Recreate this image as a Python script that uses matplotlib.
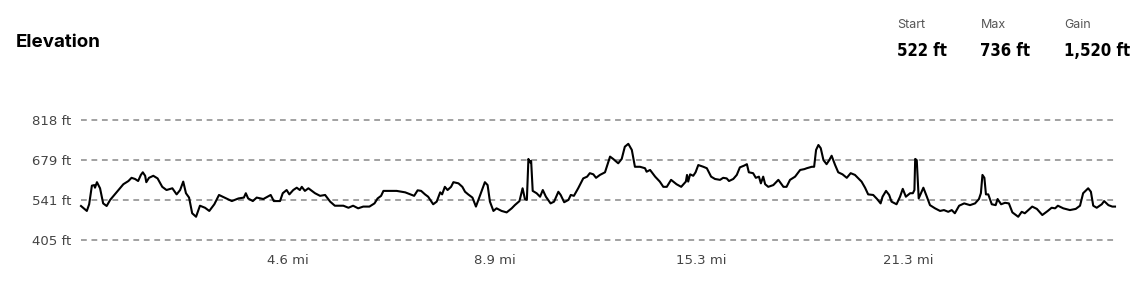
import matplotlib
matplotlib.use("Agg")
import matplotlib.pyplot as plt

# distance along the route (mi) and elevation (ft)
dist_mi = [
    0.00, 0.15, 0.21, 0.28, 0.34, 0.36, 0.41, 0.49, 0.57, 0.66, 0.75, 0.87, 1.00, 1.09, 1.22, 1.30,
    1.39, 1.47, 1.54, 1.59, 1.65, 1.68, 1.75, 1.86, 1.97, 2.09, 2.20, 2.35, 2.46, 2.55, 2.63, 2.70,
    2.78, 2.86, 2.96, 3.06, 3.19, 3.30, 3.43, 3.55, 3.69, 3.88, 4.05, 4.19, 4.24, 4.30, 4.42, 4.52,
    4.69, 4.88, 4.96, 5.12, 5.19, 5.29, 5.36, 5.46, 5.55, 5.63, 5.68, 5.76, 5.85, 6.02, 6.15, 6.28,
    6.41, 6.53, 6.75, 6.88, 7.00, 7.13, 7.26, 7.42, 7.55, 7.63, 7.72, 7.78, 7.95, 8.12, 8.34, 8.57,
    8.66, 8.75, 8.85, 8.93, 9.06, 9.15, 9.24, 9.29, 9.36, 9.43, 9.52, 9.58, 9.71, 9.81, 9.88, 9.96,
    10.07, 10.16, 10.26, 10.39, 10.46, 10.52, 10.61, 10.69, 10.82, 10.95, 11.08, 11.16, 11.28, 11.36,
    11.42, 11.47, 11.51, 11.55, 11.58, 11.62, 11.72, 11.81, 11.88, 11.96, 12.08, 12.17, 12.28, 12.34,
    12.43, 12.54, 12.60, 12.68, 12.79, 12.92, 13.02, 13.09, 13.18, 13.25, 13.35, 13.48, 13.61, 13.69,
    13.82, 13.91, 13.99, 14.08, 14.17, 14.25, 14.38, 14.51, 14.55, 14.64, 14.77, 14.89, 14.98, 15.07,
    15.18, 15.32, 15.44, 15.56, 15.59, 15.62, 15.67, 15.75, 15.81, 15.88, 16.01, 16.10, 16.21, 16.31,
    16.44, 16.52, 16.61, 16.67, 16.78, 16.87, 16.95, 17.06, 17.13, 17.18, 17.29, 17.36, 17.44, 17.49,
    17.55, 17.60, 17.68, 17.81, 17.94, 18.07, 18.15, 18.24, 18.37, 18.50, 18.61, 18.67, 18.80, 18.86,
    18.91, 18.97, 19.03, 19.10, 19.18, 19.25, 19.31, 19.40, 19.48, 19.59, 19.70, 19.80, 19.91, 20.00,
    20.08, 20.17, 20.25, 20.38, 20.48, 20.57, 20.62, 20.71, 20.79, 20.85, 20.98, 21.07, 21.14, 21.22,
    21.33, 21.40, 21.44, 21.46, 21.50, 21.55, 21.67, 21.76, 21.84, 21.97, 22.10, 22.20, 22.31, 22.40,
    22.48, 22.59, 22.72, 22.87, 23.00, 23.10, 23.15, 23.19, 23.24, 23.28, 23.34, 23.43, 23.53, 23.58,
    23.67, 23.77, 23.87, 23.96, 24.11, 24.20, 24.28, 24.37, 24.47, 24.59, 24.73, 24.87, 24.97, 25.06,
    25.13, 25.27, 25.44, 25.59, 25.70, 25.78, 25.91, 25.98, 26.04, 26.13, 26.26, 26.32, 26.43, 26.53,
    26.60,
]
elev_ft = [
    522, 505, 528, 592, 594, 585, 604, 583, 531, 522, 543, 562, 583, 597, 608, 619,
    615, 608, 629, 638, 626, 604, 619, 626, 617, 588, 577, 583, 562, 577, 606, 566,
    551, 497, 485, 523, 516, 505, 528, 560, 551, 539, 548, 551, 566, 548, 539, 551,
    546, 560, 539, 539, 566, 577, 562, 577, 585, 577, 588, 574, 583, 566, 557, 560,
    537, 523, 523, 516, 523, 514, 520, 520, 531, 548, 557, 574, 574, 574, 569, 557,
    576, 574, 562, 554, 528, 537, 569, 562, 588, 577, 588, 604, 600, 588, 571, 562,
    551, 520, 557, 604, 594, 537, 505, 514, 505, 500, 514, 525, 539, 583,
    546, 543, 684, 672, 677, 574, 566, 554, 577, 554, 531, 537, 571, 560,
    535, 543, 560, 557, 583, 617, 623, 635, 631, 619, 629, 638, 692, 684,
    669, 684, 726, 736, 715, 657, 657, 652, 640, 646, 623, 606, 588, 588,
    612, 597, 588, 606, 629, 606, 631, 626, 638, 663, 657, 652, 623, 615,
    612, 619, 617, 608, 615, 629, 655, 661, 666, 638, 635, 619, 623, 600,
    623, 597, 588, 594, 612, 588, 588, 612, 623, 646, 649, 652, 657, 657,
    715, 732, 721, 680, 666, 680, 695, 663, 638, 631, 619, 635, 629, 617,
    606, 585, 562, 560, 546, 531, 554, 574, 560, 537, 528, 554, 581, 554,
    566, 566, 577, 684, 680, 548, 585, 554, 525, 514, 505, 508, 502, 508,
    497, 523, 531, 525, 531, 546, 566, 629, 619, 562, 562, 528, 525, 546,
    528, 533, 531, 500, 485, 502, 497, 508, 520, 512, 491, 505, 516, 514,
    523, 514, 508, 512, 523, 566, 583, 571, 523, 516, 528, 539, 525, 520,
    520,
]

y_ticks = [405, 541, 679, 818]
y_labels = ["405 ft", "541 ft", "679 ft", "818 ft"]
x_ticks = [5.32, 10.64, 15.96, 21.28]
x_labels = ["4.6 mi", "8.9 mi", "15.3 mi", "21.3 mi"]

stat_names = ["Start", "Max", "Gain"]
stat_values = ["522 ft", "736 ft", "1,520 ft"]

fig = plt.figure(figsize=(11.36, 2.9), dpi=100)
ax = fig.add_axes([81 / 1136, 50 / 290, 1034 / 1136, 120 / 290])

for yv in y_ticks:
    ax.axhline(yv, color="#9a9a9a", lw=1.3, dashes=(3.2, 2.6), zorder=1, clip_on=False)

ax.plot(dist_mi, elev_ft, color="black", lw=1.5, solid_joinstyle="round", zorder=3, clip_on=False)

ax.set_xlim(dist_mi[0], dist_mi[-1])
ax.set_ylim(y_ticks[0], y_ticks[-1])
ax.set_yticks(y_ticks)
ax.set_yticklabels(y_labels)
ax.set_xticks(x_ticks)
ax.set_xticklabels(x_labels)
ax.tick_params(length=0, labelsize=9.5, labelcolor="#444444")
ax.tick_params(axis="y", pad=7)
ax.tick_params(axis="x", pad=10)
for s in ax.spines.values():
    s.set_visible(False)

fig.text(16 / 1136, 1 - 42 / 290, "Elevation", fontsize=13.5, fontweight="bold",
         family=["Inter", "DejaVu Sans"], va="center", ha="left")

for i, (name, val) in enumerate(zip(stat_names, stat_values)):
    x0 = (897 + i * 83.5) / 1136
    fig.text(x0, 1 - 25 / 290, name, fontsize=9, color="#555555",
             family=["Inter", "DejaVu Sans"], va="center", ha="left")
    fig.text(x0, 1 - 51 / 290, val, fontsize=12, fontweight="bold",
             family="DejaVu Sans", fontstretch="condensed", va="center", ha="left")

fig.savefig("out.png", dpi=100)
